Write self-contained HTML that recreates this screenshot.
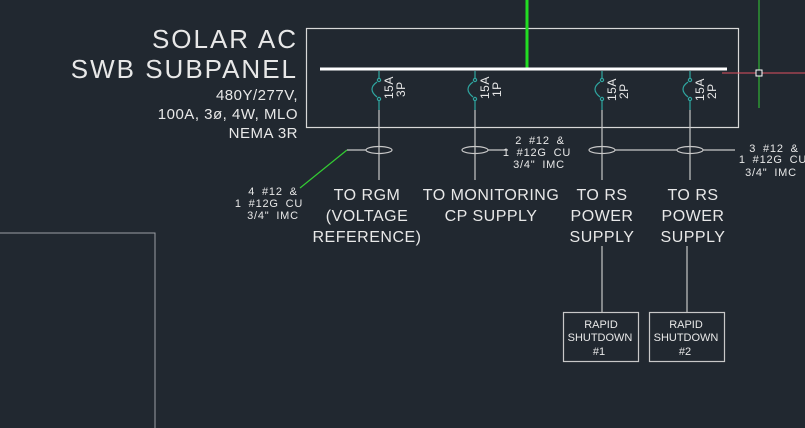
<!DOCTYPE html>
<html><head><style>
html,body{margin:0;padding:0;background:#212830;}
svg{display:block}
text{font-family:"Liberation Sans",sans-serif;fill:#e8e8e8;}
</style></head><body>
<svg width="805" height="428" viewBox="0 0 805 428" xmlns="http://www.w3.org/2000/svg">
<rect width="805" height="428" fill="#212830"/>
<polyline points="0,233 155,233 155,428" fill="none" stroke="#9a9ea3" stroke-width="1"/>
<rect x="306.5" y="28.5" width="432" height="99" fill="none" stroke="#d8d8d8" stroke-width="1.2"/>
<line x1="527" y1="0" x2="527" y2="69" stroke="#22dd22" stroke-width="3"/>
<line x1="320" y1="69" x2="727" y2="69" stroke="#ffffff" stroke-width="3"/>
<line x1="722" y1="73" x2="805" y2="73" stroke="#e05060" stroke-width="1"/>
<line x1="759" y1="0" x2="759" y2="108" stroke="#33cc33" stroke-width="1"/>
<rect x="756" y="70" width="6" height="6" fill="#212830" stroke="#ffffff" stroke-width="1"/>
<g stroke="#2fa6a0" stroke-width="1.2" fill="none">
<g><line x1="379" y1="71" x2="379" y2="78"/><circle cx="379" cy="80" r="1.6"/><circle cx="379" cy="99" r="1.6"/><line x1="379" y1="101" x2="379" y2="110"/><path d="M377,82 Q367,89 377,97"/></g>
<g transform="translate(96,0)"><line x1="379" y1="71" x2="379" y2="78"/><circle cx="379" cy="80" r="1.6"/><circle cx="379" cy="99" r="1.6"/><line x1="379" y1="101" x2="379" y2="110"/><path d="M377,82 Q367,89 377,97"/></g>
<g transform="translate(223,0)"><line x1="379" y1="71" x2="379" y2="78"/><circle cx="379" cy="80" r="1.6"/><circle cx="379" cy="99" r="1.6"/><line x1="379" y1="101" x2="379" y2="110"/><path d="M377,82 Q367,89 377,97"/></g>
<g transform="translate(311,0)"><line x1="379" y1="71" x2="379" y2="78"/><circle cx="379" cy="80" r="1.6"/><circle cx="379" cy="99" r="1.6"/><line x1="379" y1="101" x2="379" y2="110"/><path d="M377,82 Q367,89 377,97"/></g>
</g>
<g font-size="12" letter-spacing="0.5">
<text transform="translate(393,99) rotate(-90)">15A</text><text transform="translate(405,97) rotate(-90)">3P</text>
<text transform="translate(489,99) rotate(-90)">15A</text><text transform="translate(501,97) rotate(-90)">1P</text>
<text transform="translate(616,101) rotate(-90)">15A</text><text transform="translate(628,99) rotate(-90)">2P</text>
<text transform="translate(704,101) rotate(-90)">15A</text><text transform="translate(716,99) rotate(-90)">2P</text>
</g>
<g stroke="#c8c8c8" stroke-width="1.2" fill="none">
<line x1="379" y1="110" x2="379" y2="180"/>
<line x1="475" y1="110" x2="475" y2="180"/>
<line x1="602" y1="110" x2="602" y2="180"/>
<line x1="690" y1="110" x2="690" y2="180"/>
<ellipse cx="379" cy="150" rx="13" ry="3.5"/>
<ellipse cx="475" cy="150" rx="13" ry="3.5"/>
<ellipse cx="602" cy="150" rx="13" ry="3.5"/>
<ellipse cx="690" cy="150" rx="13" ry="3.5"/>
<line x1="347" y1="150" x2="366" y2="150"/>
<line x1="488" y1="150" x2="508" y2="150"/>
<line x1="615" y1="150" x2="677" y2="150"/>
<line x1="703" y1="150" x2="735" y2="150"/>
<line x1="602" y1="246" x2="602" y2="312"/>
<line x1="687" y1="246" x2="687" y2="312"/>
<rect x="563.5" y="312.5" width="75" height="49"/>
<rect x="649.5" y="312.5" width="75" height="49"/>
</g>
<line x1="347" y1="150" x2="300" y2="188" stroke="#33cc33" stroke-width="1.2"/>
<g text-anchor="end">
<text x="298" y="48" font-size="26" letter-spacing="2">SOLAR AC</text>
<text x="298" y="78" font-size="26" letter-spacing="2">SWB SUBPANEL</text>
<text x="298" y="100" font-size="15" letter-spacing="0.5">480Y/277V,</text>
<text x="298" y="119" font-size="15" letter-spacing="0.5">100A, 3ø, 4W, MLO</text>
<text x="298" y="138" font-size="15" letter-spacing="0.5">NEMA 3R</text>
</g>
<g font-size="11" text-anchor="middle" letter-spacing="0.8" word-spacing="3">
<text x="273" y="195">4 #12 &amp;</text>
<text x="269" y="207">1 #12G CU</text>
<text x="273" y="219">3/4" IMC</text>
<text x="540" y="144">2 #12 &amp;</text>
<text x="537" y="156">1 #12G CU</text>
<text x="539" y="168">3/4" IMC</text>
<text x="774" y="152">3 #12 &amp;</text>
<text x="773" y="163">1 #12G CU</text>
<text x="771" y="176">3/4" IMC</text>
</g>
<g font-size="16" text-anchor="middle" letter-spacing="0.5">
<text x="367" y="200">TO RGM</text>
<text x="367" y="221">(VOLTAGE</text>
<text x="367" y="242">REFERENCE)</text>
<text x="491" y="200">TO MONITORING</text>
<text x="491" y="221">CP SUPPLY</text>
<text x="602" y="200">TO RS</text>
<text x="602" y="221">POWER</text>
<text x="602" y="242">SUPPLY</text>
<text x="693" y="200">TO RS</text>
<text x="693" y="221">POWER</text>
<text x="693" y="242">SUPPLY</text>
</g>
<g font-size="11" text-anchor="middle">
<text x="601" y="328">RAPID</text>
<text x="600" y="341">SHUTDOWN</text>
<text x="599" y="355">#1</text>
<text x="686" y="328">RAPID</text>
<text x="686" y="341">SHUTDOWN</text>
<text x="685" y="355">#2</text>
</g>
</svg>
</body></html>
